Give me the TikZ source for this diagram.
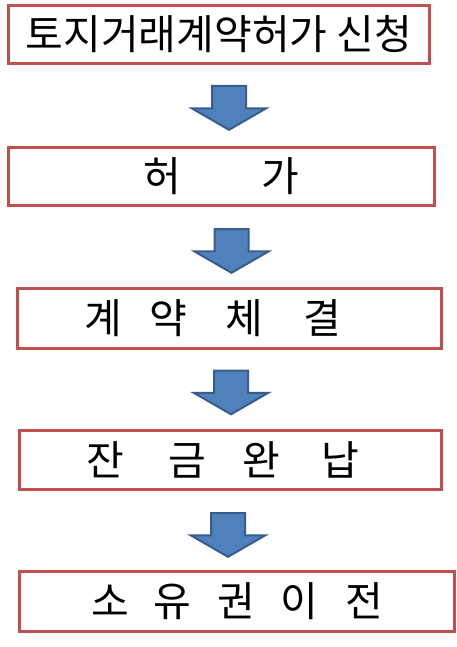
\documentclass[tikz,border=0pt]{standalone}
\usepackage{fontspec}
\setmainfont{Noto Sans CJK KR}
\usetikzlibrary{shapes.arrows}
\definecolor{boxred}{HTML}{C0504D}
\definecolor{arrowfill}{HTML}{4F81BD}
\definecolor{arrowline}{HTML}{385D8A}
\begin{document}
\begin{tikzpicture}
    [
    x=1pt,y=-1pt,
    stage/.style={draw=boxred,line width=3.2pt,rectangle,inner sep=0pt,font=\fontsize{41}{45}\selectfont},
    blockarrow/.style={single arrow,shape border rotate=270,draw=arrowline,fill=arrowfill,line width=2pt,
      inner sep=16pt,minimum width=72pt,minimum height=37pt,single arrow head extend=20pt,single arrow tip angle=120}
    ]
    \useasboundingbox (0,0) rectangle (457,647);
    \node (request) at (219,34.5) [stage,minimum width=421pt,minimum height=58pt] {토지거래계약허가 신청};
    \node (permit) at (221.5,176.5) [stage,minimum width=426pt,minimum height=58pt] {허\hspace{80pt}가};
    \node (contract) at (229.5,318.5) [stage,minimum width=424pt,minimum height=60pt] {계\hspace{27pt}약\hspace{39pt}체\hspace{40pt}결\kern33pt\null};
    \node (payment) at (230.5,460) [stage,minimum width=422pt,minimum height=59pt] {잔\hspace{44pt}금\hspace{37pt}완\hspace{41pt}납\kern15pt\null};
    \node (transfer) at (237,601.5) [stage,minimum width=435pt,minimum height=60pt] {소\hspace{25pt}유\hspace{26pt}권\hspace{25pt}이\hspace{27pt}전};
    \node (a1) at (229,85) [blockarrow,anchor=tail] {};
    \node (a2) at (231.5,228) [blockarrow,anchor=tail] {};
    \node (a3) at (231,369.5) [blockarrow,anchor=tail] {};
    \node (a4) at (228,512) [blockarrow,anchor=tail] {};
\end{tikzpicture}
\end{document}
